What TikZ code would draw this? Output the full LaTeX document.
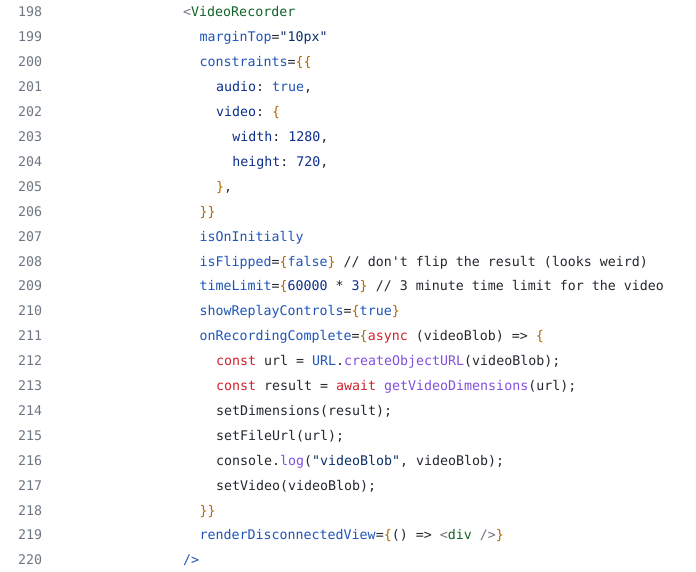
\documentclass[tikz,border=0pt]{standalone}
\usepackage{fontspec}
\setmonofont{DejaVu Sans Mono}
\definecolor{lnum}{HTML}{6E7781}
\definecolor{txt}{HTML}{24292F}
\definecolor{attr}{HTML}{1F55B8}
\definecolor{keyc}{HTML}{0E2F8A}
\definecolor{brc}{HTML}{B06A00}
\definecolor{kw}{HTML}{CF222E}
\definecolor{fn}{HTML}{8250DF}
\definecolor{tagc}{HTML}{116329}
\definecolor{strc}{HTML}{0A3069}
\newcommand\cA[1]{\textcolor{attr}{#1}}
\newcommand\cY[1]{\textcolor{keyc}{#1}}
\newcommand\cB[1]{\textcolor{brc}{#1}}
\newcommand\cK[1]{\textcolor{kw}{#1}}
\newcommand\cF[1]{\textcolor{fn}{#1}}
\newcommand\cG[1]{\textcolor{tagc}{#1}}
\newcommand\cS[1]{\textcolor{strc}{#1}}
\newcommand\lb{\{}
\newcommand\rb{\}}
\begin{document}
\begin{tikzpicture}[x=1pt,y=-1pt,
  num/.style={anchor=base west,inner sep=0pt,text=lnum,font=\fontsize{13.3}{14}\ttfamily},
  code/.style={anchor=base west,inner sep=0pt,text=txt,font=\fontsize{13.3}{14}\ttfamily}]
\useasboundingbox[fill=white] (0,0) rectangle (696,572);
\def\cx{183}\def\cw{8.2}
\newcommand\codeline[3]{%
  \node[num] (n#1) at (18,{12+24.9*(#1-198)+5}) {#1};
  \node[code] (c#1) at ({\cx+\cw*#2},{12+24.9*(#1-198)+5}) {#3};}
\codeline{198}{0}{\textcolor{lnum}{<}\cG{VideoRecorder}}
\codeline{199}{2}{\cA{marginTop}=\cS{"10px"}}
\codeline{200}{2}{\cA{constraints}=\cB{\lb\lb}}
\codeline{201}{4}{\cY{audio}: \cA{true},}
\codeline{202}{4}{\cY{video}: \cB{\lb}}
\codeline{203}{6}{\cY{width}: \cY{1280},}
\codeline{204}{6}{\cY{height}: \cY{720},}
\codeline{205}{4}{\cB{\rb},}
\codeline{206}{2}{\cB{\rb\rb}}
\codeline{207}{2}{\cA{isOnInitially}}
\codeline{208}{2}{\cA{isFlipped}=\cB{\lb}\cA{false}\cB{\rb} // don't flip the result (looks weird)}
\codeline{209}{2}{\cA{timeLimit}=\cB{\lb}\cY{60000} * \cY{3}\cB{\rb} // 3 minute time limit for the video}
\codeline{210}{2}{\cA{showReplayControls}=\cB{\lb}\cA{true}\cB{\rb}}
\codeline{211}{2}{\cA{onRecordingComplete}=\cB{\lb}\cK{async} (videoBlob) => \cB{\lb}}
\codeline{212}{4}{\cK{const} url = \cA{URL}.\cF{createObjectURL}(videoBlob);}
\codeline{213}{4}{\cK{const} result = \cK{await} \cF{getVideoDimensions}(url);}
\codeline{214}{4}{setDimensions(result);}
\codeline{215}{4}{setFileUrl(url);}
\codeline{216}{4}{console.\cF{log}(\cS{"videoBlob"}, videoBlob);}
\codeline{217}{4}{setVideo(videoBlob);}
\codeline{218}{2}{\cB{\rb\rb}}
\codeline{219}{2}{\cA{renderDisconnectedView}=\cB{\lb}() => \textcolor{lnum}{<}\cG{div} \textcolor{lnum}{/>}\cB{\rb}}
\codeline{220}{0}{\textcolor{attr}{/>}}
\end{tikzpicture}
\end{document}
